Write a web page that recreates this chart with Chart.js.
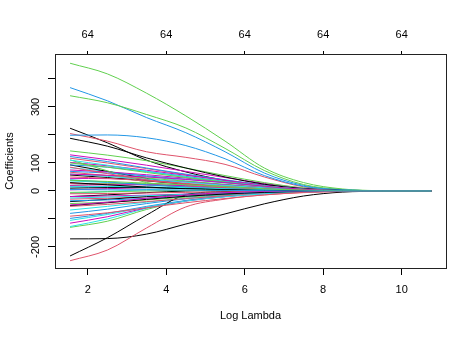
<!DOCTYPE html>
<html>
<head>
<meta charset="utf-8">
<script src="https://cdn.jsdelivr.net/npm/chart.js@4.4.1/dist/chart.umd.min.js"></script>
<style>
  html, body { margin: 0; padding: 0; background: #fff; }
</style>
</head>
<body>
<canvas id="coefPlot" width="474" height="338"></canvas>
<script>
// lambda grid (log scale) the paths are sampled on
var logLambda = [1.55, 2.5, 3.5, 4.5, 5.5, 6.5, 7.5, 8.5, 9.5, 10.76];

// x / y axis ticks
var xTicks = [2, 4, 6, 8, 10];
var dfLabels = ['64', '64', '64', '64', '64'];
var yTicks = [-200, -100, 0, 100, 200, 300, 400];
var yTickLabels = ['-200', '', '0', '100', '', '300', ''];

// R default palette, cycled over the columns like matplot does
var palette = ['#000000', '#DF536B', '#61D04F', '#2297E6', '#28E2E5', '#CD0BBC'];

// one row per coefficient, values at each logLambda
var coefPaths = [
  [224, 172, 110, 68, 38, 18, 6, 1, 0, 0],
  [205, 178, 140, 120, 95, 50, 15, 3, 1, 0],
  [456, 418, 349, 268, 178, 82, 30, 7, 1, 0],
  [369, 322, 262, 208, 140, 64, 20, 4, 1, 0],
  [83, 70, 52, 36, 22, 11, 4, 1, 0, 0],
  [129, 112, 92, 70, 48, 27, 10, 2, 0, 0],

  [-171, -170, -154, -118, -82, -46, -18, -4, -1, 0],
  [117, 100, 80, 58, 38, 20, 7, 2, 0, 0],
  [143, 128, 108, 82, 55, 30, 11, 3, 1, 0],
  [123, 105, 82, 60, 40, 22, 8, 2, 0, 0],
  [36, 30, 22, 15, 9, 4, 1, 0, 0, 0],
  [102, 90, 74, 56, 38, 21, 8, 2, 0, 0],

  [93, 70, 45, 25, 12, 5, 2, 0, 0, 0],
  [-29, -26, -21, -15, -10, -5, -2, 0, 0, 0],
  [60, 55, 46, 35, 24, 13, 4, 1, 0, 0],
  [-80, -65, -45, -28, -16, -8, -3, -1, 0, 0],
  [-8, -2, 5, 8, 7, 4, 1, 0, 0, 0],
  [75, 68, 58, 46, 32, 18, 6, 1, 0, 0],

  [-20, -14, -6, 0, 2, 2, 1, 0, 0, 0],
  [67, 55, 40, 26, 15, 7, 2, 0, 0, 0],
  [340, 315, 273, 225, 152, 73, 23, 5, 1, 0],
  [199, 200, 190, 162, 115, 55, 17, 4, 1, 0],
  [-68, -55, -40, -26, -15, -7, -2, 0, 0, 0],
  [45, 44, 40, 32, 22, 12, 4, 1, 0, 0],

  [188, 160, 118, 82, 50, 24, 8, 2, 0, 0],
  [-249, -211, -132, -57, -29, -14, -6, -2, 0, 0],
  [-130, -108, -66, -35, -18, -9, -3, -1, 0, 0],
  [93, 85, 70, 52, 34, 18, 6, 1, 0, 0],
  [-127, -100, -62, -35, -18, -8, -3, -1, 0, 0],
  [4, 8, 12, 13, 11, 6, 2, 0, 0, 0],

  [57, 48, 36, 24, 14, 7, 2, 0, 0, 0],
  [27, 26, 22, 17, 11, 6, 2, 0, 0, 0],
  [111, 72, 30, 12, 5, 2, 1, 0, 0, 0],
  [15, 14, 12, 10, 7, 4, 1, 0, 0, 0],
  [110, 92, 70, 50, 33, 18, 6, 1, 0, 0],
  [-20, -18, -15, -11, -7, -4, -1, 0, 0, 0],

  [-38, -30, -20, -12, -7, -3, -1, 0, 0, 0],
  [50, 45, 36, 27, 18, 10, 3, 1, 0, 0],
  [20, 25, 26, 22, 16, 9, 3, 1, 0, 0],
  [-98, -80, -55, -34, -20, -10, -3, -1, 0, 0],
  [60, 52, 42, 31, 20, 11, 4, 1, 0, 0],
  [-115, -92, -60, -36, -20, -9, -3, -1, 0, 0],

  [-232, -167, -86, -14, -2, 1, 1, 0, 0, 0],
  [-10, -9, -7, -5, -3, -2, -1, 0, 0, 0],
  [-45, -40, -32, -22, -13, -6, -2, 0, 0, 0],
  [70, 64, 54, 42, 29, 16, 5, 1, 0, 0],
  [-25, -22, -17, -12, -7, -4, -1, 0, 0, 0],
  [20, 22, 22, 19, 14, 8, 3, 1, 0, 0],

  [10, 12, 12, 10, 7, 4, 1, 0, 0, 0],
  [-55, -48, -38, -27, -17, -9, -3, -1, 0, 0],
  [100, 85, 66, 48, 32, 17, 6, 1, 0, 0],
  [-35, -32, -26, -19, -12, -6, -2, 0, 0, 0],
  [-105, -84, -58, -36, -21, -10, -3, -1, 0, 0],
  [60, 56, 50, 41, 30, 17, 6, 1, 0, 0],

  [-52, -42, -30, -19, -11, -5, -2, 0, 0, 0],
  [85, 62, 40, 24, 13, 6, 2, 0, 0, 0],
  [-5, -3, 0, 2, 3, 2, 1, 0, 0, 0],
  [40, 32, 22, 14, 8, 4, 1, 0, 0, 0],
  [15, 16, 15, 12, 8, 4, 1, 0, 0, 0],
  [-50, -40, -26, -14, -6, -2, 0, 0, 0, 0],

  [30, 22, 14, 8, 5, 2, 1, 0, 0, 0],
  [-90, -78, -60, -42, -27, -14, -5, -1, 0, 0],
  [38, 34, 28, 22, 15, 8, 3, 1, 0, 0],
  [5, 4, 4, 3, 2, 1, 0, 0, 0, 0]
];

var xMin = 1.166, xMax = 11.13;
var yMin = -275, yMax = 489;

var font = { family: '"Liberation Sans", Arial, sans-serif', size: 11 };
var ink = '#000';

var datasets = coefPaths.map(function(path, i) {
    return {
        data: path.map(function(v, k) { return { x: logLambda[k], y: v }; }),
        borderColor: palette[i % palette.length],
        borderWidth: 1,
        pointRadius: 0,
        fill: false,
        cubicInterpolationMode: 'monotone',
        // later columns are drawn on top, as in matplot
        order: coefPaths.length - i
    };
});

// full box round the plotting region
var plotBox = {
    id: 'plotBox',
    afterDraw: function(chart) {
        var a = chart.chartArea;
        var c = chart.ctx;
        c.save();
        c.strokeStyle = '#222';
        c.lineWidth = 1;
        c.strokeRect(Math.round(a.left) + 0.5, Math.round(a.top) + 0.5,
                     Math.round(a.right - a.left), Math.round(a.bottom - a.top));
        c.restore();
    }
};

var context = document.getElementById('coefPlot').getContext('2d');
var chart = new Chart(context, {
    type: 'line',
    data: { datasets: datasets },
    plugins: [plotBox],
    options: {
        responsive: false,
        animation: false,
        events: [],
        layout: { padding: { left: 0, right: 28, top: 0, bottom: 0 } },
        plugins: {
            legend: { display: false },
            tooltip: { enabled: false }
        },
        scales: {
            x: {
                type: 'linear',
                position: 'bottom',
                min: xMin,
                max: xMax,
                afterBuildTicks: function(s) { s.ticks = xTicks.map(function(v) { return { value: v }; }); },
                afterFit: function(s) { s.height = 70; },
                ticks: { color: ink, font: font, padding: 8, autoSkip: false, maxRotation: 0,
                         callback: function(v) { return String(v); } },
                grid: { drawOnChartArea: false, color: ink, tickLength: 7, tickWidth: 1 },
                border: { display: true, color: '#222' },
                title: { display: true, text: 'Log Lambda', color: ink, font: font, padding: { top: 0, bottom: 15 } }
            },
            xTop: {
                type: 'linear',
                position: 'top',
                min: xMin,
                max: xMax,
                afterBuildTicks: function(s) { s.ticks = xTicks.map(function(v) { return { value: v }; }); },
                afterFit: function(s) { s.height = 54; },
                ticks: { color: ink, font: font, padding: 9, autoSkip: false, maxRotation: 0,
                         callback: function(v, idx) { return dfLabels[idx]; } },
                grid: { drawOnChartArea: false, color: ink, tickLength: 3, tickWidth: 1 },
                border: { display: true, color: '#222' }
            },
            y: {
                type: 'linear',
                position: 'left',
                min: yMin,
                max: yMax,
                afterBuildTicks: function(s) { s.ticks = yTicks.map(function(v) { return { value: v }; }); },
                afterFit: function(s) { s.width = 55; },
                ticks: { color: ink, font: font, padding: 1, autoSkip: false,
                         minRotation: 90, maxRotation: 90, crossAlign: 'center',
                         callback: function(v, idx) { return yTickLabels[idx]; } },
                grid: { drawOnChartArea: false, color: ink, tickLength: 7, tickWidth: 1 },
                border: { display: true, color: '#222' },
                title: { display: true, text: 'Coefficients', color: ink, font: font, padding: { top: 3, bottom: 0 } }
            }
        }
    }
});
</script>
</body>
</html>
